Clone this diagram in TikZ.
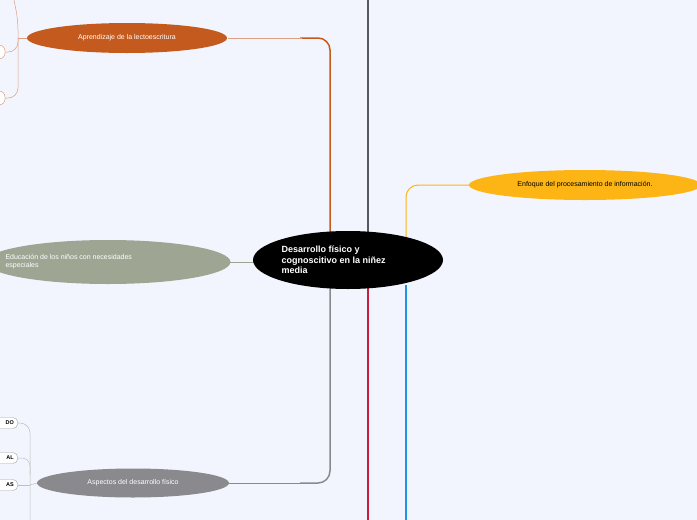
\documentclass[tikz,border=0pt]{standalone}
\usepackage{fontspec}
\setmainfont{Liberation Sans}
\usetikzlibrary{shapes.geometric}
\begin{document}
\begin{tikzpicture}[x=1pt,y=-1pt,
 pill/.style={draw=gray!70,fill=white,rounded corners=5pt,minimum height=11pt,minimum width=40pt,inner sep=2pt,align=right,text width=32pt,font=\fontsize{5.5}{6}\selectfont\bfseries,anchor=east}]
\useasboundingbox (0,0) rectangle (697,520);
\clip (0,0) rectangle (697,520);
\fill[fill={rgb,255:red,243;green,245;blue,254}] (0,0) rectangle (697,520);
% trunk lines
\draw[line width=2pt,color={rgb,255:red,85;green,88;blue,98}] (368,0) -- (368,235);
\draw[line width=2pt,color={rgb,255:red,200;green,30;blue,60}] (368,285) -- (368,520);
\draw[line width=2pt,color={rgb,255:red,30;green,150;blue,230}] (406,285) -- (406,520);
\draw[line width=1pt,color={rgb,255:red,253;green,181;blue,21},rounded corners=12pt] (406,240) -- (406,185) -- (470,185);
\draw[line width=1.5pt,color={rgb,255:red,197;green,90;blue,30},rounded corners=12pt] (330,240) -- (330,38) -- (300,38);
\draw[line width=0.5pt,color={rgb,255:red,220;green,160;blue,130}] (302,38) -- (228,38);
\draw[line width=1.5pt,color={rgb,255:red,138;green,138;blue,142},rounded corners=12pt] (330,285) -- (330,483) -- (300,483);
\draw[line width=0.5pt,color={rgb,255:red,138;green,138;blue,142}] (302,483) -- (229,483);
\draw[line width=0.5pt,color={rgb,255:red,158;green,165;blue,147}] (228,262) -- (256,262);
% nodes
\node[ellipse,fill=black,minimum width=190pt,minimum height=58pt] (c) at (348,260) {};
\node[text=white,font=\fontsize{9}{10.5}\selectfont\bfseries,align=left,anchor=west] (ct) at (278,260) {Desarrollo físico y\\cognoscitivo en la niñez\\media};
\node[ellipse,fill={rgb,255:red,197;green,90;blue,30},minimum width=200pt,minimum height=30pt,text=white,font=\fontsize{7}{8}\selectfont] (a) at (127,38) {Aprendizaje de la lectoescritura};
\node[ellipse,fill={rgb,255:red,158;green,165;blue,147},minimum width=245pt,minimum height=44pt] (e) at (108,262) {};
\node[text=white,font=\fontsize{7}{8}\selectfont,align=left,anchor=west] (et) at (2,262) {Educación de los niños con necesidades\\especiales};
\node[ellipse,fill={rgb,255:red,138;green,138;blue,142},minimum width=192pt,minimum height=29pt,text=white,font=\fontsize{7}{8}\selectfont] (g) at (133,483) {Aspectos del desarrollo físico};
\node[ellipse,fill={rgb,255:red,253;green,181;blue,21},minimum width=232pt,minimum height=30pt,font=\fontsize{7}{8}\selectfont] (y) at (585,185) {Enfoque del procesamiento de información.};
% left small pills
\node[pill] (p1) at (18,423) {DO};
\node[pill] (p2) at (18,458) {AL};
\node[pill] (p3) at (18,485) {AS};
\draw[gray!50,line width=0.5pt] (g.west) -- (30,485);
\draw[gray!50,line width=0.5pt,rounded corners=10pt] (p1.east) -- (30,423) -- (30,520);
\draw[gray!50,line width=0.5pt,rounded corners=8pt] (p2.east) -- (30,458) -- (30,475);
\draw[gray!50,line width=0.5pt] (p3.east) -- (30,485);
% top-left branches
\draw[color={rgb,255:red,220;green,160;blue,130},line width=0.5pt] (a.west) -- (18,38);
\draw[color={rgb,255:red,220;green,160;blue,130},line width=0.5pt,rounded corners=10pt] (14,0) -- (18,20) -- (18,98) -- (0,98);
\draw[color={rgb,255:red,220;green,160;blue,130},line width=0.5pt,rounded corners=10pt] (18,38) -- (18,52) -- (0,52);
\draw[color={rgb,255:red,220;green,160;blue,130},line width=0.5pt,fill=white,rounded corners=6pt] (-20,45) rectangle (5,59);
\draw[color={rgb,255:red,220;green,160;blue,130},line width=0.5pt,fill=white,rounded corners=6pt] (-20,91) rectangle (5,105);
\end{tikzpicture}
\end{document}
